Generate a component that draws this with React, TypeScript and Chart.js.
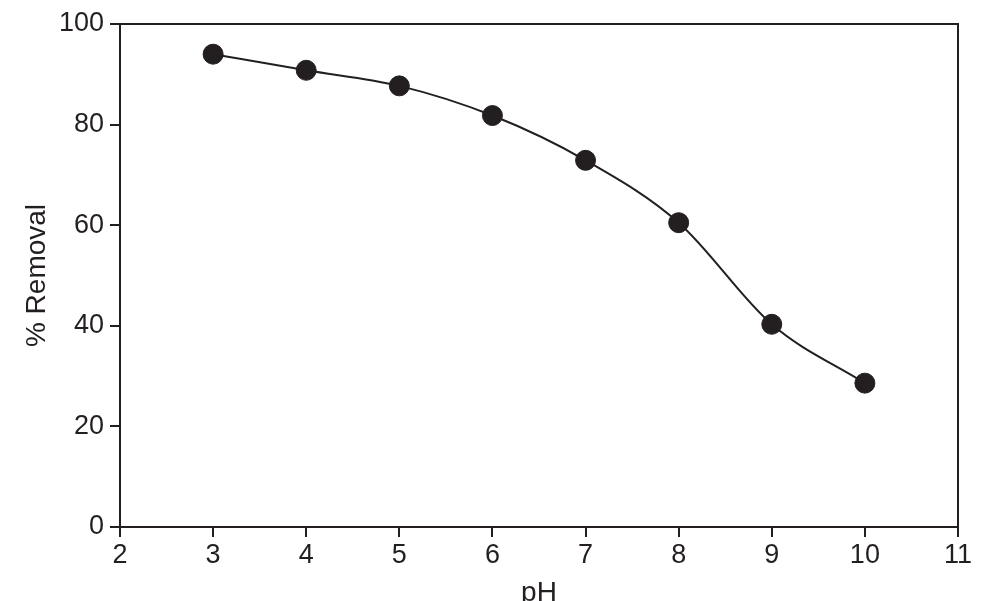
import React, { useEffect, useRef } from "react";
import { Chart, registerables } from "chart.js";

Chart.register(...registerables);

const phValues = [3, 4, 5, 6, 7, 8, 9, 10];
const removalValues = [94.0, 90.8, 87.7, 81.8, 72.9, 60.5, 40.3, 28.6];
const xTitle = "pH";
const yTitle = "% Removal";

const INK = "#231f20";
const FONT = "'Liberation Sans', Arial, Helvetica, sans-serif";
const W = 984;
const H = 601;

const framePlugin = {
  id: "frame",
  afterDraw(chart: any) {
    const { ctx, chartArea } = chart;
    ctx.save();
    ctx.strokeStyle = INK;
    ctx.lineWidth = 2;
    ctx.beginPath();
    ctx.moveTo(chartArea.left, chartArea.top);
    ctx.lineTo(chartArea.right, chartArea.top);
    ctx.lineTo(chartArea.right, chartArea.bottom);
    ctx.stroke();
    ctx.restore();
  },
};

export default function App() {
  const ref = useRef<HTMLCanvasElement | null>(null);

  useEffect(() => {
    if (!ref.current) return;
    const chart = new Chart(ref.current, {
      type: "scatter",
      data: {
        datasets: [
          {
            data: phValues.map((x, i) => ({ x, y: removalValues[i] })),
            showLine: true,
            cubicInterpolationMode: "monotone",
            borderColor: INK,
            borderWidth: 2,
            backgroundColor: INK,
            pointRadius: 10,
            pointHoverRadius: 10,
            pointBorderWidth: 1,
            pointBorderColor: INK,
            pointBackgroundColor: INK,
            clip: false,
          } as any,
        ],
      },
      options: {
        responsive: false,
        animation: false,
        devicePixelRatio: 1,
        layout: { padding: { top: 24, right: 26, left: 0, bottom: 0 } },
        plugins: {
          legend: { display: false },
          tooltip: { enabled: false },
        },
        scales: {
          x: {
            type: "linear",
            min: 2,
            max: 11,
            afterFit: (s: any) => {
              s.height = H - 527;
            },
            ticks: {
              stepSize: 1,
              padding: 2,
              color: INK,
              font: { family: FONT, size: 27 },
            },
            grid: {
              display: true,
              drawOnChartArea: false,
              drawTicks: true,
              tickLength: 10,
              lineWidth: 2,
              color: INK,
            },
            border: { display: true, color: INK, width: 2 },
            title: {
              display: true,
              text: xTitle,
              color: INK,
              font: { family: FONT, size: 28 },
              padding: { top: 0, bottom: -9 },
            },
          },
          y: {
            type: "linear",
            min: 0,
            max: 100,
            afterFit: (s: any) => {
              s.width = 120;
            },
            ticks: {
              stepSize: 20,
              padding: 6,
              color: INK,
              font: { family: FONT, size: 27 },
            },
            grid: {
              display: true,
              drawOnChartArea: false,
              drawTicks: true,
              tickLength: 10,
              lineWidth: 2,
              color: INK,
            },
            border: { display: true, color: INK, width: 2 },
            title: {
              display: true,
              text: yTitle,
              color: INK,
              font: { family: FONT, size: 28 },
              padding: { top: 20, bottom: 0 },
            },
          },
        },
      } as any,
      plugins: [framePlugin],
    });
    return () => chart.destroy();
  }, []);

  return (
    <div
      style={{
        position: "fixed",
        left: 0,
        top: 0,
        width: W,
        height: H,
        background: "#fff",
        overflow: "hidden",
      }}
    >
      <canvas ref={ref} width={W} height={H} style={{ width: W, height: H, display: "block" }} />
    </div>
  );
}
